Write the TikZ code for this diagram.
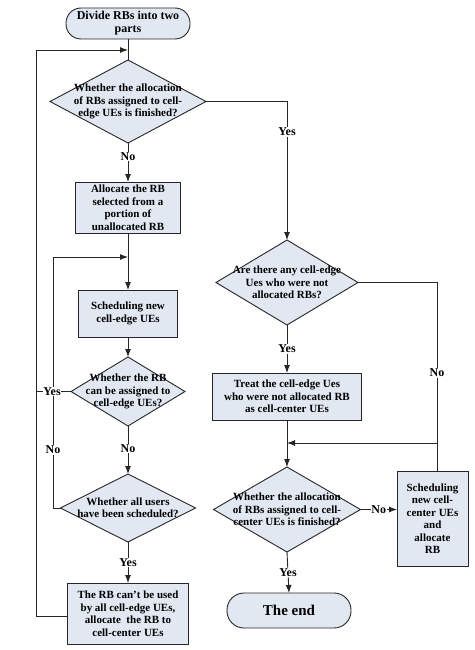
\documentclass[tikz,border=0pt]{standalone}
\usepackage{fontspec}
\setmainfont{Liberation Serif}
\usetikzlibrary{shapes.geometric,arrows.meta,calc}
\definecolor{boxfill}{RGB}{225,232,242}
\tikzset{
  base/.style={draw=black!85, line width=0.9pt, fill=boxfill, inner sep=0pt, outer sep=0pt,
    font=\fontsize{11}{12.5}\selectfont\bfseries, align=center},
  procbox/.style={base, rectangle},
  termbox/.style={base, rectangle, rounded corners=15pt},
  decbox/.style={base, diamond},
  dtext/.style={font=\fontsize{11}{12.5}\selectfont\bfseries, align=center, inner sep=0pt},
  conn/.style={draw=black!85, line width=0.9pt},
  arr/.style={conn, -{Latex[length=8pt,width=6pt]}},
  lbl/.style={fill=white, inner sep=0.6pt, font=\fontsize{12}{12}\selectfont\bfseries}
}
\begin{document}
\begin{tikzpicture}[x=1pt,y=-1pt]
\useasboundingbox (0,0) rectangle (474,650);
% left column
\node[termbox, minimum width=124pt, minimum height=31pt, font=\fontsize{12}{13}\selectfont\bfseries] (start) at (128,23.5) {Divide RBs into two\\parts};
\node[decbox, minimum width=156pt, minimum height=83pt] (d1) at (128,101.5) {};
\node[dtext] (t1) at (d1) {Whether the allocation\\of RBs assigned to cell-\\edge UEs is finished?};
\node[procbox, minimum width=105pt, minimum height=51pt] (b1) at (128,207.5) {Allocate the RB\\selected from a\\portion of\\unallocated RB};
\node[procbox, minimum width=99pt, minimum height=47pt] (b2) at (128,313.5) {Scheduling new\\cell-edge UEs};
\node[decbox, minimum width=114pt, minimum height=69pt] (d4) at (128,391.5) {};
\node[dtext] (t4) at (d4) {Whether the RB\\can be assigned to\\cell-edge UEs?};
\node[decbox, minimum width=135pt, minimum height=68pt] (d5) at (128,508) {};
\node[dtext] (t5) at (d5) {Whether all users\\have been scheduled?};
\node[procbox, minimum width=121pt, minimum height=61pt] (b3) at (128,613.5) {The RB can't be used\\by all cell-edge UEs,\\allocate\ \ the RB to\\cell-center UEs};
% right column
\node[decbox, minimum width=142pt, minimum height=85pt] (d2) at (287,282.5) {};
\node[dtext] (t2) at (d2) {Are there any cell-edge\\Ues who were not\\allocated RBs?};
\node[procbox, minimum width=149pt, minimum height=47pt] (b4) at (287,396.5) {Treat the cell-edge Ues\\who were not allocated RB\\as cell-center UEs};
\node[decbox, minimum width=147pt, minimum height=85pt] (d3) at (287,509.5) {};
\node[dtext] (t3) at (d3) {Whether the allocation\\of RBs assigned to cell-\\center UEs is finished?};
\node[termbox, minimum width=124pt, minimum height=35pt, rounded corners=17pt, font=\fontsize{15}{15}\selectfont\bfseries] (end) at (289,610.5) {The end};
\node[procbox, minimum width=71pt, minimum height=95pt] (b5) at (432.5,518.5) {Scheduling\\new cell-\\center UEs\\and\\allocate\\RB};
% coordinates
\coordinate (j0) at (128,50);
\coordinate (j1) at (128,257);
\coordinate (j2) at (287,443);
\coordinate (lo1) at (36,616);
\coordinate (lo2) at (36,50);
\coordinate (li1) at (53,508);
\coordinate (li2) at (53,257);
\coordinate (ly) at (36,391.5);
\coordinate (r1) at (287,101.5);
\coordinate (r2) at (437,282.5);
\coordinate (r3) at (437,471);
\coordinate (r4) at (437,443);
% connectors
\draw[conn] (start.south) -- (d1.north);
\draw[arr] (b3.west |- lo1) -- (lo1) -- (lo2) -- (j0);
\draw[arr] (d1.south) -- node[lbl, pos=0.35]{No} (b1.north);
\draw[arr] (b1.south) -- (b2.north);
\draw[arr] (li1) -- (li2) -- (j1);
\draw[conn] (d5.west) -- (li1);
\draw[arr] (b2.south) -- (d4.north);
\draw[conn] (d4.west) -- (ly);
\node[lbl] (yl) at (52,391.5) {Yes};
\node[lbl] (nl) at (53,450) {No};
\draw[arr] (d4.south) -- node[lbl, pos=0.47]{No} (d5.north);
\draw[arr] (d5.south) -- node[lbl, pos=0.5]{Yes} (b3.north);
\draw[arr] (d1.east) -- (r1) -- node[lbl, pos=0.22]{Yes} (d2.north);
\draw[arr] (d2.south) -- node[lbl, pos=0.5]{Yes} (b4.north);
\draw[conn] (d2.east) -- (r2) -- (r3);
\node[lbl] (nr) at (437,373) {No};
\draw[arr] (r4) -- (j2);
\draw[arr] (b4.south) -- (d3.north);
\draw[arr] (d3.east) -- node[lbl, pos=0.5]{No} (d3.east -| b5.west);
\draw[arr] (d3.south) -- node[lbl, pos=0.5]{Yes} (end.north);
\end{tikzpicture}
\end{document}
